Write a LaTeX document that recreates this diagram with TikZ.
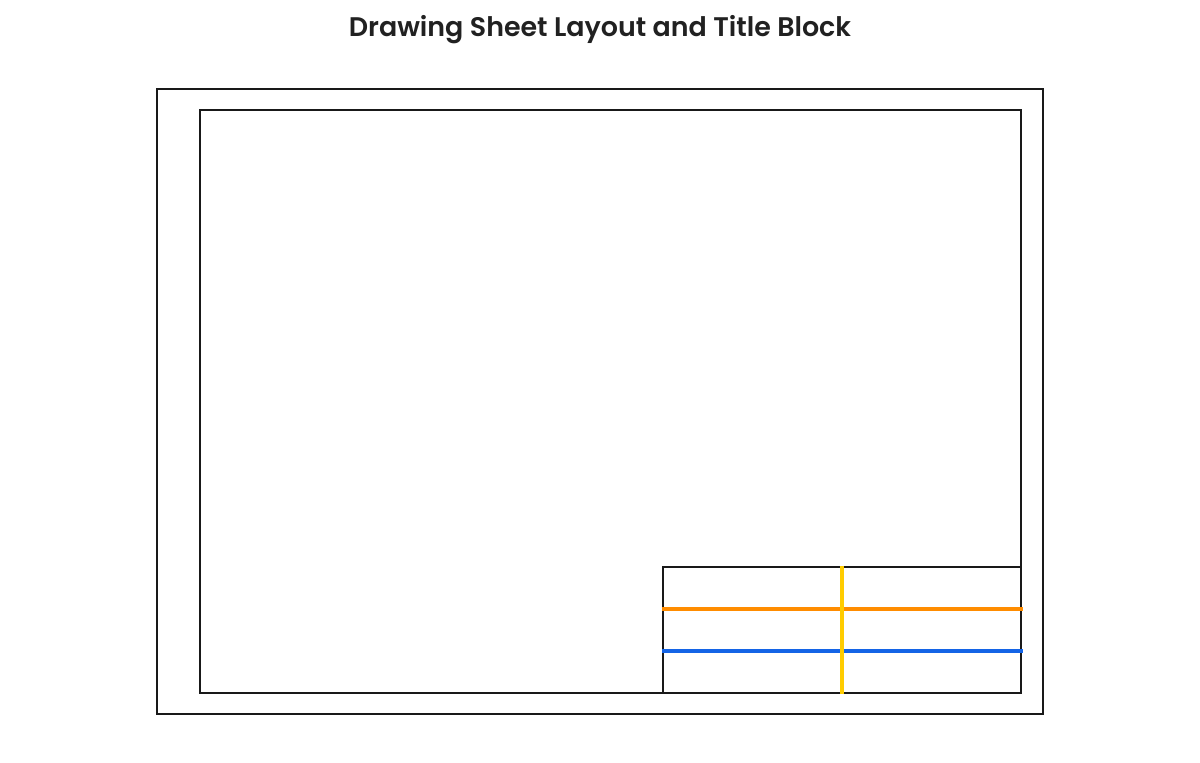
\documentclass[tikz,border=0pt]{standalone}
\usepackage{fontspec}
\setmainfont{Poppins}[BoldFont={Poppins SemiBold}]
\begin{document}
\begin{tikzpicture}[x=1pt,y=-1pt,
  frame/.style={draw=black!90,line width=2pt},
  zoneline/.style={line width=4pt},
  titletext/.style={font=\fontsize{26.9}{30}\selectfont\bfseries,text=black!87}]
\useasboundingbox (0,0) rectangle (1200,763);
\node[titletext] (title) at (600,30) {Drawing Sheet Layout and Title Block};
\draw[frame] (157,89) rectangle (1043,714);
\draw[frame] (200,110) rectangle (1021,693);
\coordinate (tbtl) at (663,567);
\coordinate (tbbr) at (1021,693);
\draw[frame] (tbtl) rectangle (tbbr);
\coordinate (ol) at (662,609); \coordinate (or) at (1023,609);
\coordinate (bl) at (662,651); \coordinate (br) at (1023,651);
\coordinate (yt) at (842,566); \coordinate (yb) at (842,694);
\draw[zoneline,draw={rgb,255:red,255;green,140;blue,0}] (ol) -- (or);
\draw[zoneline,draw={rgb,255:red,20;green,100;blue,230}] (bl) -- (br);
\draw[zoneline,draw={rgb,255:red,255;green,204;blue,0}] (yt) -- (yb);
\end{tikzpicture}
\end{document}
